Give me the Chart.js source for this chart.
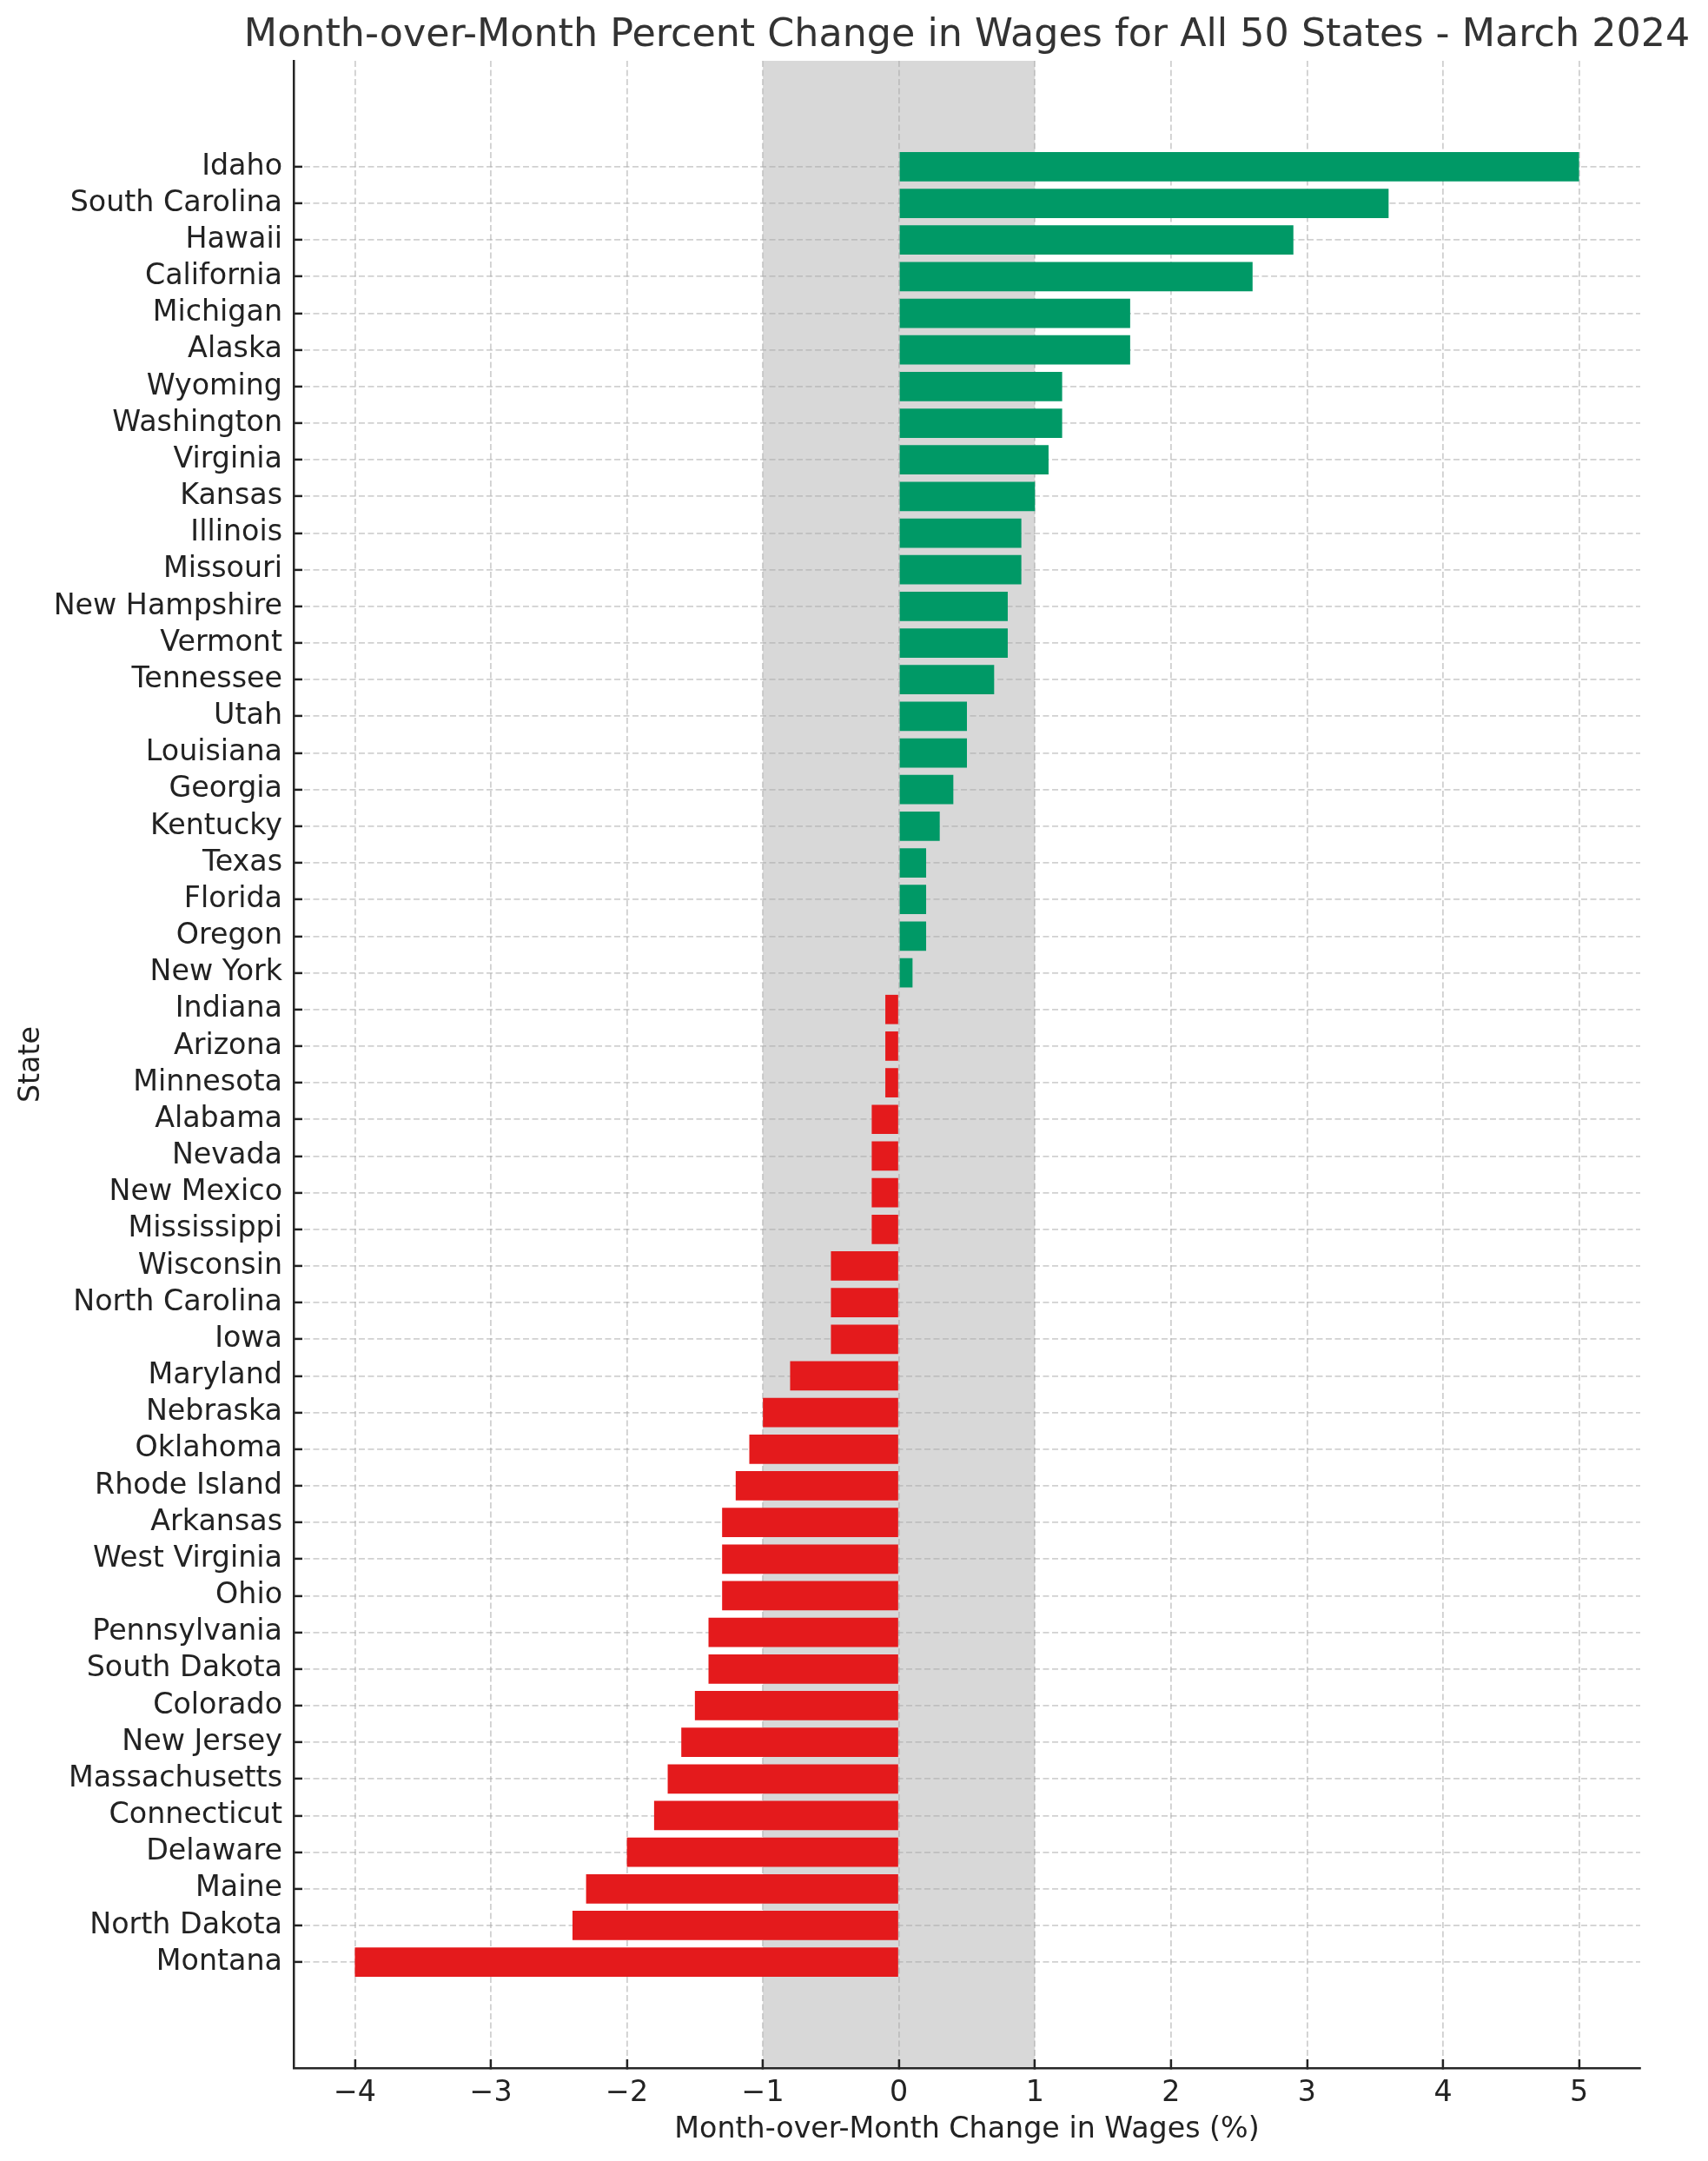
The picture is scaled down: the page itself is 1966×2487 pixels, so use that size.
<!DOCTYPE html>
<html>
<head>
<meta charset="utf-8">
<script src="https://cdn.jsdelivr.net/npm/chart.js@4.4.1/dist/chart.umd.min.js"></script>
<style>
    html, body { margin: 0; padding: 0; background: #fff; }
    #chart { display: block; }
</style>
</head>
<body>
<canvas id="chart" width="1966" height="2487"></canvas>
<script>
/* ===== Month-over-month wage change by state ===== */

const STATES = [
    'Idaho', 'South Carolina', 'Hawaii', 'California', 'Michigan', 'Alaska',
    'Wyoming', 'Washington', 'Virginia', 'Kansas', 'Illinois', 'Missouri',
    'New Hampshire', 'Vermont', 'Tennessee', 'Utah', 'Louisiana', 'Georgia',
    'Kentucky', 'Texas', 'Florida', 'Oregon', 'New York', 'Indiana', 'Arizona',
    'Minnesota', 'Alabama', 'Nevada', 'New Mexico', 'Mississippi', 'Wisconsin',
    'North Carolina', 'Iowa', 'Maryland', 'Nebraska', 'Oklahoma', 'Rhode Island',
    'Arkansas', 'West Virginia', 'Ohio', 'Pennsylvania', 'South Dakota',
    'Colorado', 'New Jersey', 'Massachusetts', 'Connecticut', 'Delaware',
    'Maine', 'North Dakota', 'Montana'
];

const WAGE_CHANGE = [
    5.0, 3.6, 2.9, 2.6, 1.7, 1.7,
    1.2, 1.2, 1.1, 1.0, 0.9, 0.9,
    0.8, 0.8, 0.7, 0.5, 0.5, 0.4,
    0.3, 0.2, 0.2, 0.2, 0.1, -0.1, -0.1,
    -0.1, -0.2, -0.2, -0.2, -0.2, -0.5,
    -0.5, -0.5, -0.8, -1.0, -1.1, -1.2,
    -1.3, -1.3, -1.3, -1.4, -1.4,
    -1.5, -1.6, -1.7, -1.8, -2.0,
    -2.3, -2.4, -4.0
];

const X_TICKS = [-4, -3, -2, -1, 0, 1, 2, 3, 4, 5];
const BAND = [-1, 1];

const GREEN = '#009966';
const RED = '#e41a1c';
const INK = '#262626';
const GRID = 'rgba(170,170,170,0.55)';
const LABEL_SIZE = 33.3;

Chart.defaults.font.family = "'DejaVu Sans', sans-serif";
Chart.defaults.color = INK;

// white page, then the shaded +/-1 band under the grid
const bandPlugin = {
    id: 'band',
    beforeDraw(chart) {
        const { ctx, chartArea, scales } = chart;
        ctx.save();
        ctx.fillStyle = '#fff';
        ctx.fillRect(0, 0, chart.width, chart.height);
        const x1 = scales.x.getPixelForValue(BAND[0]);
        const x2 = scales.x.getPixelForValue(BAND[1]);
        ctx.fillStyle = '#d8d8d8';
        ctx.fillRect(x1, chartArea.top, x2 - x1, chartArea.bottom - chartArea.top);
        ctx.restore();
    }
};

// title centred over the plot area, like matplotlib does
const titlePlugin = {
    id: 'plotTitle',
    afterDraw(chart) {
        const { ctx, chartArea } = chart;
        ctx.save();
        ctx.font = "44.4px 'DejaVu Sans'";
        ctx.fillStyle = '#333';
        ctx.textAlign = 'center';
        ctx.textBaseline = 'alphabetic';
        ctx.fillText('Month-over-Month Percent Change in Wages for All 50 States - March 2024',
            (chartArea.left + chartArea.right) / 2, 53);
        ctx.restore();
    }
};

const ctx = document.getElementById('chart').getContext('2d');

// negative tick length -> tick marks point into the plot
const gridOpts = {
    offset: false,
    color: GRID,
    lineWidth: 1.8,
    tickLength: -10,
    tickWidth: 2.5,
    tickColor: '#222',
    tickBorderDash: []
};

new Chart(ctx, {
    type: 'bar',
    data: {
        datasets: [{
            data: WAGE_CHANGE.map((v, i) => ({ x: v, y: i })),
            backgroundColor: WAGE_CHANGE.map(v => v >= 0 ? GREEN : RED),
            borderWidth: 0,
            barPercentage: 0.8,
            categoryPercentage: 1
        }]
    },
    options: {
        indexAxis: 'y',
        responsive: false,
        animation: false,
        devicePixelRatio: 1,
        layout: { padding: { top: 70, right: 78, left: 0, bottom: 0 } },
        plugins: {
            legend: { display: false },
            tooltip: { enabled: false },
            title: { display: false }
        },
        scales: {
            x: {
                type: 'linear',
                min: -4.45,
                max: 5.45,
                afterBuildTicks: (scale) => { scale.ticks = X_TICKS.map(v => ({ value: v })); },
                afterFit: (scale) => { scale.height = 107; },
                ticks: {
                    font: { size: LABEL_SIZE },
                    color: '#222',
                    padding: 19,
                    maxRotation: 0,
                    callback: (v) => (v < 0 ? '\u2212' + Math.abs(v) : String(v))
                },
                grid: gridOpts,
                border: { display: true, color: INK, width: 2.5, dash: [7, 3.5] },
                title: {
                    display: true,
                    text: 'Month-over-Month Change in Wages (%)',
                    font: { size: LABEL_SIZE },
                    color: '#222',
                    padding: { top: 0, bottom: 16 }
                }
            },
            y: {
                type: 'linear',
                reverse: true,
                offset: false,
                min: -2.89,
                max: 51.89,
                afterBuildTicks: (scale) => { scale.ticks = STATES.map((_, i) => ({ value: i })); },
                afterFit: (scale) => { scale.width = 338; },
                ticks: {
                    autoSkip: false,
                    font: { size: LABEL_SIZE },
                    color: '#222',
                    padding: 23,
                    callback: (v) => STATES[v]
                },
                grid: gridOpts,
                border: { display: true, color: INK, width: 2.5, dash: [7, 3.5] },
                title: {
                    display: true,
                    text: 'State',
                    font: { size: LABEL_SIZE },
                    color: '#222',
                    padding: { top: 16, bottom: 0 }
                }
            }
        }
    },
    plugins: [bandPlugin, titlePlugin]
});
</script>
</body>
</html>
